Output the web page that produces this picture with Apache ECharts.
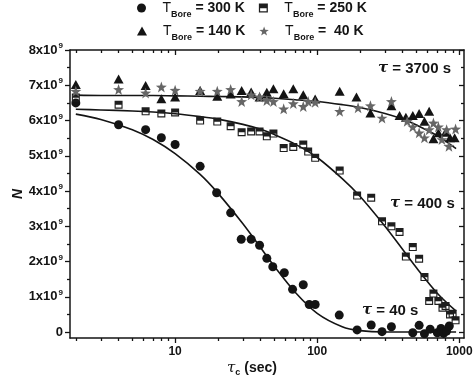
<!DOCTYPE html>
<html>
<head>
<meta charset="utf-8">
<script src="https://cdn.jsdelivr.net/npm/echarts@6/dist/echarts.min.js"></script>
<style>
html,body{margin:0;padding:0;background:#fff;}
#chart{width:474px;height:379px;}
</style>
</head>
<body>
<div id="chart"></div>
<script>
// ---- data (N in units of 10^9) ----
const tau300 = [2, 4, 6.2, 8, 10, 15, 19.6, 24.6, 29.2, 34.3, 39.3, 44.2, 48.7, 58.7, 67.1, 79.8, 87.9, 96.8, 143, 191, 240, 286, 333, 471, 522, 569, 624, 701, 744, 776, 815, 851];
const N300   = [6.5, 5.88, 5.74, 5.51, 5.32, 4.70, 3.95, 3.38, 2.63, 2.63, 2.46, 2.09, 1.85, 1.68, 1.21, 1.34, 0.78, 0.78, 0.48, 0.06, 0.20, 0.01, 0.15, -0.02, 0.19, -0.05, 0.08, -0.02, 0.10, -0.04, 0.03, 0.17];

const tau250 = [2, 4, 6.2, 8, 10, 15, 19.8, 24.6, 29.4, 34.3, 39.3, 44.2, 49.2, 58.1, 67.9, 79.8, 86.4, 96.8, 144, 191, 240, 286, 333, 380, 421, 471, 522, 569, 614, 658, 713, 762, 801, 861, 898, 942];
const N250   = [6.65, 6.45, 6.26, 6.20, 6.23, 6.00, 5.97, 5.84, 5.67, 5.69, 5.69, 5.55, 5.63, 5.22, 5.25, 5.32, 5.12, 4.94, 4.58, 3.87, 3.81, 3.14, 3.00, 2.84, 2.14, 2.41, 2.08, 1.56, 0.88, 1.09, 0.88, 0.69, 0.74, 0.50, 0.52, 0.33];

const tau140 = [2, 4, 6.2, 8, 10, 15, 19.8, 24.6, 29.4, 34.3, 39.3, 44.2, 49.2, 58.1, 67.9, 79.8, 96.8, 144, 189, 237, 333, 380, 421, 471, 522, 569, 614, 658, 713, 801, 861, 928];
const N140   = [7.02, 7.18, 6.99, 6.62, 6.67, 6.85, 6.69, 6.75, 6.85, 6.81, 6.67, 6.80, 6.90, 6.76, 6.90, 6.73, 6.61, 6.83, 6.67, 6.21, 6.42, 6.14, 6.09, 6.14, 6.20, 5.98, 6.26, 5.48, 5.65, 5.67, 5.51, 5.51];

const tau40 = [2, 4, 6.2, 8, 10, 15, 19.8, 24.6, 29.4, 34.3, 39.3, 44.2, 49.2, 58.1, 67.9, 79.8, 86.4, 96.8, 144, 194, 237, 286, 333, 430, 471, 522, 569, 614, 658, 713, 755, 815, 846, 942];
const N40   = [6.83, 6.88, 6.78, 6.95, 6.86, 6.83, 6.83, 6.88, 6.54, 6.73, 6.67, 6.57, 6.54, 6.33, 6.48, 6.40, 6.54, 6.52, 6.26, 6.36, 6.42, 6.07, 6.54, 5.98, 5.82, 5.65, 5.51, 5.74, 5.93, 5.82, 5.46, 5.74, 5.27, 5.76];

// fitted curves
const fitTau  = [2, 3, 5, 7, 10, 15, 20, 30, 40, 50, 70, 100, 150, 200, 300, 400, 500, 700, 950];
const fit3700 = [6.72, 6.71, 6.71, 6.71, 6.70, 6.69, 6.68, 6.67, 6.65, 6.63, 6.59, 6.54, 6.45, 6.37, 6.20, 6.04, 5.87, 5.57, 5.20];
const fit400  = [6.32, 6.30, 6.27, 6.24, 6.19, 6.11, 6.04, 5.89, 5.75, 5.60, 5.33, 4.95, 4.35, 3.85, 3.00, 2.34, 1.82, 1.10, 0.59];
const fit40   = [6.18, 6.03, 5.74, 5.46, 5.06, 4.47, 3.94, 3.07, 2.39, 1.86, 1.13, 0.53, 0.15, 0.04, 0.00, 0.00, 0.00, 0.00, 0.00];

const xMajor = [10, 100, 1000];
const xMinor = [2,3,4,5,6,7,8,9,20,30,40,50,60,70,80,90,200,300,400,500,600,700,800,900];
const yMajor = [0,1,2,3,4,5,6,7,8];
const yMinor = [0.5,1.5,2.5,3.5,4.5,5.5,6.5,7.5];

const seriesNames = ['300 K', '250 K', '140 K', '40 K'];
const legendValueText = {'300 K':' = 300 K', '250 K':' = 250 K', '140 K':' = 140 K', '40 K':' =  40 K'};

// ---- presentation ----
const FONT = 'Liberation Sans, Arial, Helvetica, sans-serif';
const INK = '#141414';
const XMIN = 1.82, XMAX = 1080, YMIN = -0.17, YMAX = 8;

const starPath = 'path://M10,0 L12.35,6.76 L19.51,6.91 L13.8,11.24 L15.88,18.09 L10,14 L4.12,18.09 L6.2,11.24 L0.49,6.91 L7.65,6.76 Z';
const halfSquarePath = 'path://M0,0 H10 V10 H0 Z M1.4,5.2 V8.6 H8.6 V5.2 Z';

const pair = (xs, ys) => xs.map((x, i) => [x, ys[i]]);

function xAxisCfg(pos, major, withLabels) {
  return {
    type: 'log', logBase: 10, min: XMIN, max: XMAX, position: pos,
    splitLine: {show: false}, minorTick: {show: false},
    axisLine: {show: major, onZero: false, lineStyle: {color: INK, width: 1.5}},
    axisTick: {show: true, inside: pos === 'top', customValues: major ? xMajor : xMinor,
               length: major ? 5 : 3, lineStyle: {color: INK, width: 1.3}},
    axisLabel: withLabels ? {show: true, customValues: xMajor, margin: 8,
               color: INK, fontFamily: FONT, fontWeight: 'bold', fontSize: 12,
               formatter: v => String(Math.round(v))} : {show: false},
    nameMoveOverlap: false
  };
}
function yAxisCfg(pos, major, withLabels) {
  return {
    type: 'value', min: YMIN, max: YMAX, position: pos,
    splitLine: {show: false}, minorTick: {show: false},
    axisLine: {show: major, onZero: false, lineStyle: {color: INK, width: 1.5}},
    axisTick: {show: true, inside: pos === 'right', customValues: major ? yMajor : yMinor,
               length: major ? 5 : 3, lineStyle: {color: INK, width: 1.3}},
    axisLabel: withLabels ? {show: true, customValues: yMajor, margin: 7,
               color: INK, fontFamily: FONT,
               formatter: v => v === 0 ? '{b|0}' : '{b|' + Math.round(v) + 'x10}{sup|9}',
               rich: {
                 b: {fontFamily: FONT, fontWeight: 'bold', fontSize: 13, color: INK},
                 sup: {fontFamily: FONT, fontWeight: 'bold', fontSize: 8, color: INK, padding: [0, 0, 8, 1]}
               }} : {show: false},
    nameMoveOverlap: false
  };
}

const xAxes = [xAxisCfg('bottom', true, true), xAxisCfg('bottom', false, false),
               xAxisCfg('top', true, false), xAxisCfg('top', false, false)];
Object.assign(xAxes[0], {
  name: '{tau|τ}{sub|c}{n| (sec)}', nameLocation: 'middle', nameGap: 22,
  nameTextStyle: {color: INK, padding: [0, 30, 0, 0], rich: {
    tau: {fontFamily: 'DejaVu Serif, serif', fontStyle: 'italic', fontSize: 15, color: INK},
    sub: {fontFamily: FONT, fontWeight: 'bold', fontSize: 9, color: INK, padding: [8, 0, 0, 0]},
    n: {fontFamily: FONT, fontWeight: 'bold', fontSize: 14, color: INK}
  }}
});
const yAxes = [yAxisCfg('left', true, true), yAxisCfg('left', false, false),
               yAxisCfg('right', true, false), yAxisCfg('right', false, false)];
Object.assign(yAxes[0], {
  name: 'N', nameLocation: 'middle', nameGap: 45, nameRotate: 90,
  nameTextStyle: {color: INK, fontFamily: FONT, fontWeight: 'bold', fontStyle: 'italic', fontSize: 14}
});

const legendRich = {
  t: {fontFamily: FONT, fontSize: 14, color: INK, padding: [0, 0, 0, 11]},
  s: {fontFamily: FONT, fontWeight: 'bold', fontSize: 9, color: INK, padding: [14, 0, 0, 0]},
  v: {fontFamily: FONT, fontWeight: 'bold', fontSize: 14, color: INK}
};
function legendCfg(names, top) {
  return {
    data: names, left: 137, top: top, orient: 'horizontal',
    itemWidth: 10, itemHeight: 9, itemGap: 14, padding: 0,
    selectedMode: false,
    formatter: name => '{t|T}{s|Bore}{v|' + legendValueText[name] + '}',
    textStyle: {rich: legendRich, color: INK}
  };
}

const lineSeries = (data) => ({
  type: 'line', data: pair(fitTau, data), showSymbol: false, symbol: 'none',
  smooth: 0.3, silent: true, lineStyle: {color: INK, width: 1.6}, z: 1
});

const option = {
  animation: false,
  backgroundColor: '#fff',
  grid: {left: 70, right: 10, top: 50, bottom: 41, outerBoundsMode: 'none', containLabel: false},
  legend: [legendCfg(['300 K', '250 K'], 1), legendCfg(['140 K', '40 K'], 24)],
  xAxis: xAxes,
  yAxis: yAxes,
  graphic: [
    {type: 'text', left: 378, top: 61, style: {text: '{i|τ} = 3700 s', fill: INK,
      font: 'bold 15px ' + FONT, rich: {i: {fontFamily: 'DejaVu Serif, serif', fontStyle: 'italic', fontWeight: 'bold', fontSize: 15}}}},
    {type: 'text', left: 390, top: 196, style: {text: '{i|τ} = 400 s', fill: INK,
      font: 'bold 15px ' + FONT, rich: {i: {fontFamily: 'DejaVu Serif, serif', fontStyle: 'italic', fontWeight: 'bold', fontSize: 15}}}},
    {type: 'text', left: 362, top: 303, style: {text: '{i|τ} = 40 s', fill: INK,
      font: 'bold 15px ' + FONT, rich: {i: {fontFamily: 'DejaVu Serif, serif', fontStyle: 'italic', fontWeight: 'bold', fontSize: 15}}}}
  ],
  series: [
    lineSeries(fit3700),
    lineSeries(fit400),
    lineSeries(fit40),
    {name: '300 K', type: 'scatter', data: pair(tau300, N300), symbol: 'circle', symbolSize: 9,
     itemStyle: {color: INK, opacity: 1}, z: 3},
    {name: '250 K', type: 'scatter', data: pair(tau250, N250), symbol: halfSquarePath, symbolSize: 8,
     itemStyle: {color: '#1e1e1e', opacity: 1}, z: 3},
    {name: '140 K', type: 'scatter', data: pair(tau140, N140), symbol: 'triangle', symbolSize: [10, 9],
     itemStyle: {color: INK, opacity: 1}, z: 3},
    {name: '40 K', type: 'scatter', data: pair(tau40, N40), symbol: starPath, symbolSize: 11,
     itemStyle: {color: '#666666', opacity: 1}, z: 3}
  ]
};

const chart = echarts.init(document.getElementById('chart'), null, {renderer: 'canvas'});
chart.setOption(option);
</script>
</body>
</html>
